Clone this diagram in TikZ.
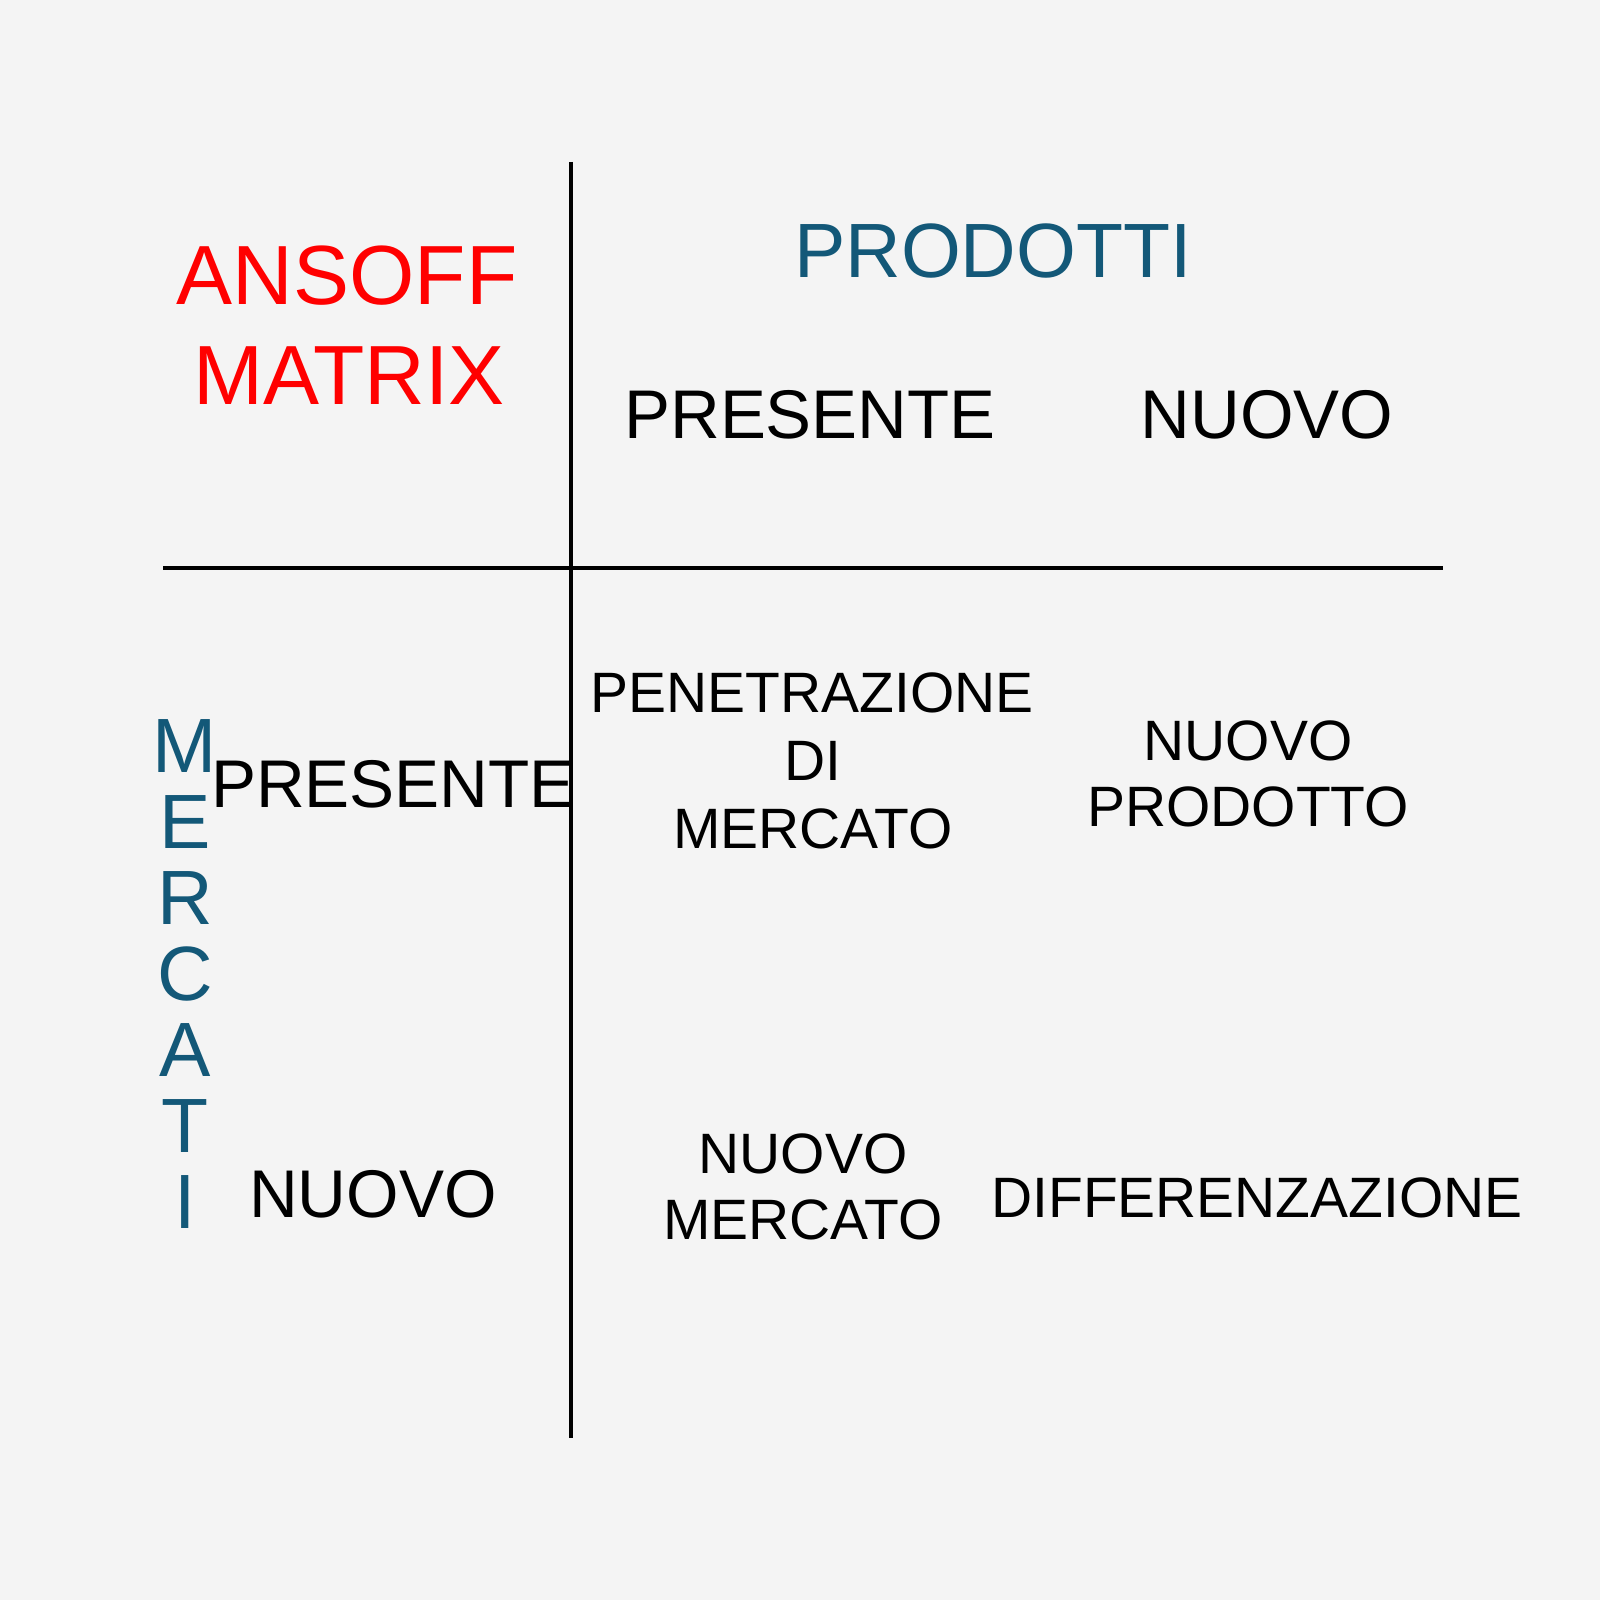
\documentclass[tikz,border=0pt]{standalone}
\usepackage{fontspec}
\setmainfont{Liberation Sans}
\definecolor{bgcol}{HTML}{F4F4F4}
\definecolor{ansred}{HTML}{FF0000}
\definecolor{ansblue}{HTML}{135878}
\begin{document}
\begin{tikzpicture}[
  txt/.style={inner sep=0pt, anchor=base, text=black},
  title/.style={txt, text=ansred, font=\fontsize{23.9}{28.45}\selectfont},
  axis/.style={txt, text=ansblue, font=\fontsize{21.9}{21.6}\selectfont},
  head/.style={txt, font=\fontsize{19.6}{22}\selectfont},
  rowhead/.style={txt, font=\fontsize{19.2}{22}\selectfont},
  cell/.style={txt, font=\fontsize{16.2}{19.35}\selectfont},
  rule/.style={line width=1.15pt, black}
]
\fill[bgcol] (0,0) rectangle (16,16);
\useasboundingbox (0,0) rectangle (16,16);

% grid lines
\coordinate (vtop) at (5.71,14.38);
\coordinate (vbot) at (5.71,1.62);
\coordinate (hleft) at (1.63,10.32);
\coordinate (hright) at (14.43,10.32);
\draw[rule] (vtop) -- (vbot);
\draw[rule] (hleft) -- (hright);

% title
\node[title] (ansoff) at (3.47,12.95) {ANSOFF};
\node[title] (matrix) at (3.49,11.95) {MATRIX};

% products axis
\node[axis] (prodotti) at (9.93,13.22) {PRODOTTI};
\node[head] (colpres) at (8.10,11.61) {PRESENTE};
\node[head] (colnuovo) at (12.67,11.61) {NUOVO};

% markets axis (vertical letters)
\node[axis] (m1) at (1.85,8.27) {M};
\node[axis] (m2) at (1.85,7.51) {E};
\node[axis] (m3) at (1.85,6.75) {R};
\node[axis] (m4) at (1.85,5.99) {C};
\node[axis] (m5) at (1.85,5.23) {A};
\node[axis] (m6) at (1.85,4.47) {T};
\node[axis] (m7) at (1.85,3.71) {I};
\node[rowhead] (rowpres) at (3.93,7.92) {PRESENTE};
\node[rowhead] (rownuovo) at (3.73,3.82) {NUOVO};

% cells
\node[cell] (pen1) at (8.12,8.87) {PENETRAZIONE};
\node[cell] (pen2) at (8.13,8.19) {DI};
\node[cell] (pen3) at (8.13,7.51) {MERCATO};
\node[cell] (np1) at (12.48,8.39) {NUOVO};
\node[cell] (np2) at (12.48,7.73) {PRODOTTO};
\node[cell] (nm1) at (8.03,4.26) {NUOVO};
\node[cell] (nm2) at (8.03,3.60) {MERCATO};
\node[cell] (diff) at (12.57,3.82) {DIFFERENZAZIONE};
\end{tikzpicture}
\end{document}
